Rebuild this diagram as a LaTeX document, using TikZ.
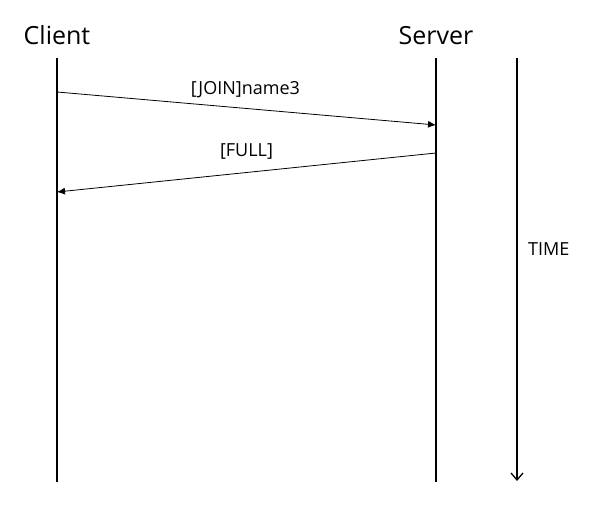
\documentclass[tikz,border=0pt]{standalone}
\usepackage{fontspec}
\setmainfont{Open Sans}
\usetikzlibrary{arrows.meta}

\begin{document}
\begin{tikzpicture} [ x=1pt, y=-1pt,
		      every node/.style={inner sep=0pt},
		      party/.style={font=\fontsize{25}{28}\selectfont, anchor=base},
		      msglabel/.style={font=\fontsize{18}{21}\selectfont, anchor=base},
		      lifeline/.style={line width=1.6pt},
		      msg/.style={line width=0.8pt, -{Latex[length=8pt,width=7pt]}},
		      timeline/.style={line width=1.6pt, -{Straight Barb[length=7pt,width=12pt,line width=1.3pt]}}
		    ]

  \useasboundingbox (0,0) rectangle (591,510);

  % parties
  \node[party] (client) at (57,45) {Client};
  \node[party] (server) at (436,45) {Server};

  \coordinate (ctop) at (57,58);
  \coordinate (cbot) at (57,482);
  \coordinate (stop) at (436,58);
  \coordinate (sbot) at (436,482);
  \coordinate (ttop) at (517,58);
  \coordinate (tbot) at (517,481);

  \draw[lifeline] (ctop) -- (cbot);
  \draw[lifeline] (stop) -- (sbot);
  \draw[timeline] (ttop) -- (tbot);
  \node[msglabel, anchor=base west] (time) at (528,256) {TIME};

  % messages
  \coordinate (join1) at (57,92);
  \coordinate (join2) at (436,125);
  \coordinate (full1) at (436,153);
  \coordinate (full2) at (57,192);

  \draw[msg] (join1) -- (join2);
  \node[msglabel] (joinlbl) at (245.5,95) {[JOIN]name3};

  \draw[msg] (full1) -- (full2);
  \node[msglabel] (fulllbl) at (246.5,157) {[FULL]};
\end{tikzpicture}
\end{document}
